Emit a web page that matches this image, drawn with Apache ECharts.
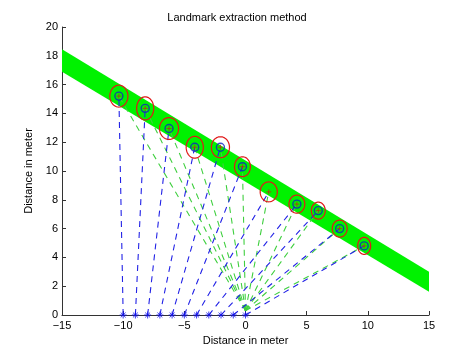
<!DOCTYPE html>
<html><head><meta charset="utf-8">
<script src="https://cdn.jsdelivr.net/npm/echarts@6/dist/echarts.min.js"></script>
<style>html,body{margin:0;padding:0;background:#fff}#c{width:474px;height:355px}</style>
</head><body><div id="c"></div>
<script>
const titleText = 'Landmark extraction method';
const xAxisName = 'Distance in meter';
const yAxisName = 'Distance in meter';
// robot poses along the x axis
const robotX = [-10, -9, -8, -7, -6, -5, -4, -3, -2, -1, 0];
const robotY = [0, 0, 0, 0, 0, 0, 0, 0, 0, 0, 0];
// true landmark positions (red +)
const landmarkX = [-10.35, -8.2, -6.25, -4.15, -2.05, -0.25, 1.9, 4.2, 5.95, 7.7, 9.7];
const landmarkY = [15.2, 14.35, 12.95, 11.65, 11.65, 10.3, 8.55, 7.7, 7.25, 6.0, 4.8];
// estimated landmark positions (blue o); landmark 7 has none
const estimateX = [-10.35, -8.2, -6.25, -4.15, -2.05, -0.25, null, 4.2, 5.95, 7.7, 9.7];
const estimateY = [15.2, 14.35, 12.95, 11.65, 11.65, 10.3, null, 7.7, 7.25, 6.0, 4.8];
// uncertainty ellipse semi-axes (meters)
const ellipseRx = [0.74, 0.70, 0.78, 0.70, 0.74, 0.65, 0.70, 0.65, 0.57, 0.61, 0.53];
const ellipseRy = [0.76, 0.80, 0.76, 0.76, 0.73, 0.69, 0.69, 0.63, 0.59, 0.59, 0.59];
// final pose from which the green rays are drawn
const finalPoseX = 0;
const finalPoseY = 0.3;
// extracted wall (green band)
const bandX = [-15, 15];
const bandTop = [18.45, 3.0];
const bandBottom = [16.9, 1.62];
// axis ticks
const xTicks = [-15, -10, -5, 0, 5, 10, 15];
const yTicks = [0, 2, 4, 6, 8, 10, 12, 14, 16, 18, 20];

const chart = echarts.init(document.getElementById('c'), null, {renderer: 'canvas'});
const FONT = 'Liberation Sans, Arial, Helvetica, sans-serif';

const blueLines = robotX.map((x, i) => ({coords: [[x, robotY[i]], [landmarkX[i], landmarkY[i]]]}));
const greenLines = landmarkX.map((x, i) => ({coords: [[finalPoseX, finalPoseY], [x, landmarkY[i]]]}));
const estData = estimateX.map((x, i) => x === null ? null : [x, estimateY[i]]).filter(d => d);
const trueData = landmarkX.map((x, i) => [x, landmarkY[i]]);
const ellData = landmarkX.map((x, i) => [x, landmarkY[i], ellipseRx[i], ellipseRy[i]]);
const robotData = robotX.map((x, i) => [x, robotY[i]]);

const option = {
  animation: false,
  backgroundColor: '#ffffff',
  title: {
    text: titleText, left: 'center', top: 7,
    textStyle: {fontFamily: FONT, fontSize: 11, fontWeight: 'normal', color: '#000'}
  },
  grid: {left: 62, right: 45, top: 27, bottom: 40, containLabel: false},
  xAxis: {
    type: 'value', min: xTicks[0], max: xTicks[xTicks.length - 1], interval: 5,
    name: xAxisName, nameLocation: 'middle', nameGap: 18,
    nameTextStyle: {fontFamily: FONT, fontSize: 11, color: '#000'},
    axisLine: {show: true, onZero: false, lineStyle: {color: '#333', width: 1}},
    axisTick: {show: true, inside: true, length: 4, lineStyle: {color: '#333'}},
    axisLabel: {fontFamily: FONT, fontSize: 11, color: '#000', margin: 5,
      formatter: v => (v < 0 ? '\u2212' + Math.abs(v) : String(v))},
    splitLine: {show: false}
  },
  yAxis: {
    type: 'value', min: yTicks[0], max: yTicks[yTicks.length - 1], interval: 2,
    name: yAxisName, nameLocation: 'middle', nameGap: 20, nameRotate: 90,
    nameTextStyle: {fontFamily: FONT, fontSize: 11, color: '#000'},
    axisLine: {show: true, onZero: false, lineStyle: {color: '#333', width: 1}},
    axisTick: {show: true, inside: true, length: 4, lineStyle: {color: '#333'}},
    axisLabel: {fontFamily: FONT, fontSize: 11, color: '#000', margin: 4},
    splitLine: {show: false}
  },
  series: [
    {
      type: 'custom', z: 1, silent: true,
      data: [[bandX[0], bandTop[0], bandBottom[0], bandX[1], bandTop[1], bandBottom[1]]],
      encode: {x: [0, 3], y: [1, 2, 4, 5]},
      renderItem: (params, api) => {
        const p = [
          api.coord([api.value(0), api.value(1)]),
          api.coord([api.value(3), api.value(4)]),
          api.coord([api.value(3), api.value(5)]),
          api.coord([api.value(0), api.value(2)])
        ];
        return {type: 'polygon', shape: {points: p}, style: {fill: '#00f200', stroke: null}};
      }
    },
    {
      type: 'lines', coordinateSystem: 'cartesian2d', z: 2, silent: true,
      data: greenLines,
      lineStyle: {color: '#3fcf3f', width: 1.1, type: [6, 5], opacity: 1}
    },
    {
      type: 'lines', coordinateSystem: 'cartesian2d', z: 3, silent: true,
      data: blueLines,
      lineStyle: {color: '#2222e6', width: 1.1, type: [6, 5], opacity: 1}
    },
    {
      type: 'custom', z: 4, silent: true,
      data: ellData,
      encode: {x: 0, y: 1},
      renderItem: (params, api) => {
        const cx = api.value(0), cy = api.value(1), rx = api.value(2), ry = api.value(3);
        const pts = [];
        for (let k = 0; k < 60; k++) {
          const t = k / 60 * Math.PI * 2;
          pts.push(api.coord([cx + rx * Math.cos(t), cy + ry * Math.sin(t)]));
        }
        return {type: 'polygon', shape: {points: pts}, style: {fill: null, stroke: '#e01818', lineWidth: 1.2}};
      }
    },
    {
      type: 'scatter', z: 5, silent: true,
      data: estData,
      symbol: 'circle', symbolSize: 8,
      itemStyle: {color: 'rgba(0,0,0,0)', borderColor: '#1020c0', borderWidth: 1.4}
    },
    {
      type: 'scatter', z: 6, silent: true,
      data: trueData,
      symbol: 'path://M0,-5L0,5M-5,0L5,0', symbolSize: 5,
      itemStyle: {color: 'none', borderColor: '#b83010', borderWidth: 1}
    },
    {
      type: 'scatter', z: 7, silent: true,
      data: robotData,
      symbol: 'path://M0,-5L0,5M-5,0L5,0M-3.5,-3.5L3.5,3.5M-3.5,3.5L3.5,-3.5', symbolSize: 7,
      itemStyle: {color: 'none', borderColor: '#1010ee', borderWidth: 1}
    }
  ]
};
chart.setOption(option);
</script>
</body></html>
